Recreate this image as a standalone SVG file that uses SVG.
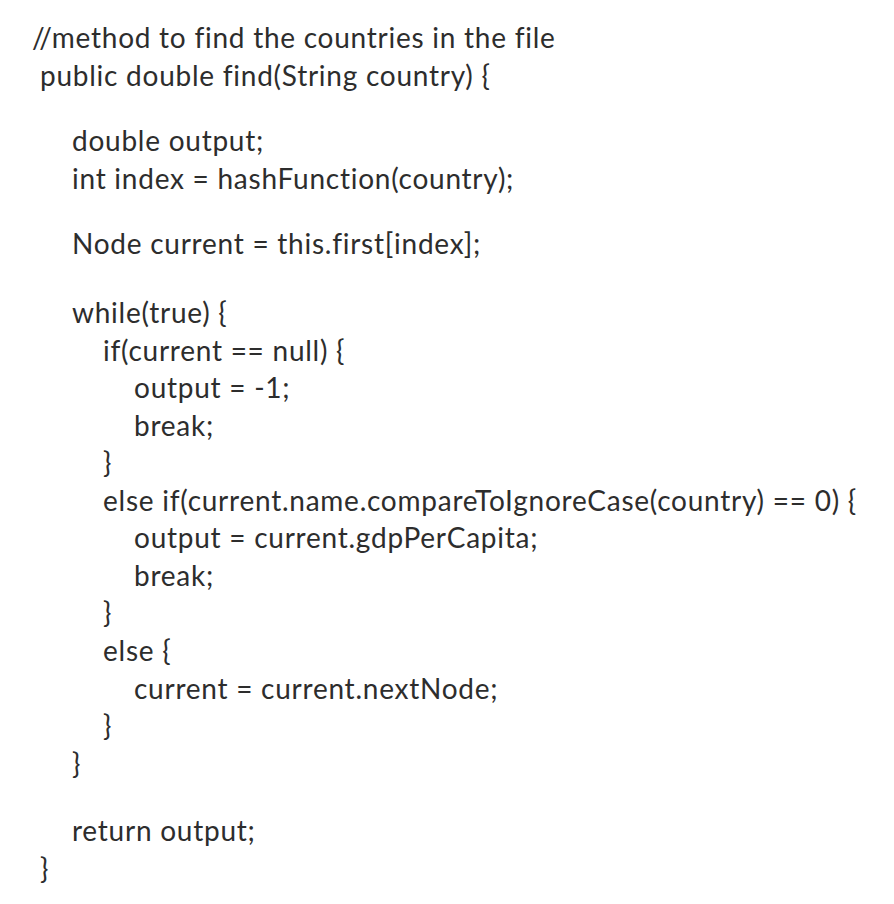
<svg xmlns="http://www.w3.org/2000/svg" width="894" height="904" viewBox="0 0 894 904">
<style>text{font-family:Lato,"Open Sans",sans-serif;font-size:28px;letter-spacing:0.75px;font-variant-ligatures:none;fill:#2d2d2d}</style>
<rect width="894" height="904" fill="#fff"/>
<text x="32" y="48">//method to find the countries in the file</text>
<text x="40" y="86">public double find(String country) {</text>
<text x="72" y="151">double output;</text>
<text x="72" y="189">int index = hashFunction(country);</text>
<text x="72" y="254">Node current = this.first[index];</text>
<text x="72" y="323">while(true) {</text>
<text x="103" y="361">if(current == null) {</text>
<text x="134" y="398">output = -1;</text>
<text x="134" y="436">break;</text>
<text x="103" y="473">}</text>
<text x="103" y="511">else if(current.name.compareToIgnoreCase(country) == 0) {</text>
<text x="134" y="548">output = current.gdpPerCapita;</text>
<text x="134" y="586">break;</text>
<text x="103" y="623">}</text>
<text x="103" y="661">else {</text>
<text x="134" y="699">current = current.nextNode;</text>
<text x="103" y="736">}</text>
<text x="72" y="774">}</text>
<text x="72" y="841">return output;</text>
<text x="40" y="879">}</text>
</svg>
